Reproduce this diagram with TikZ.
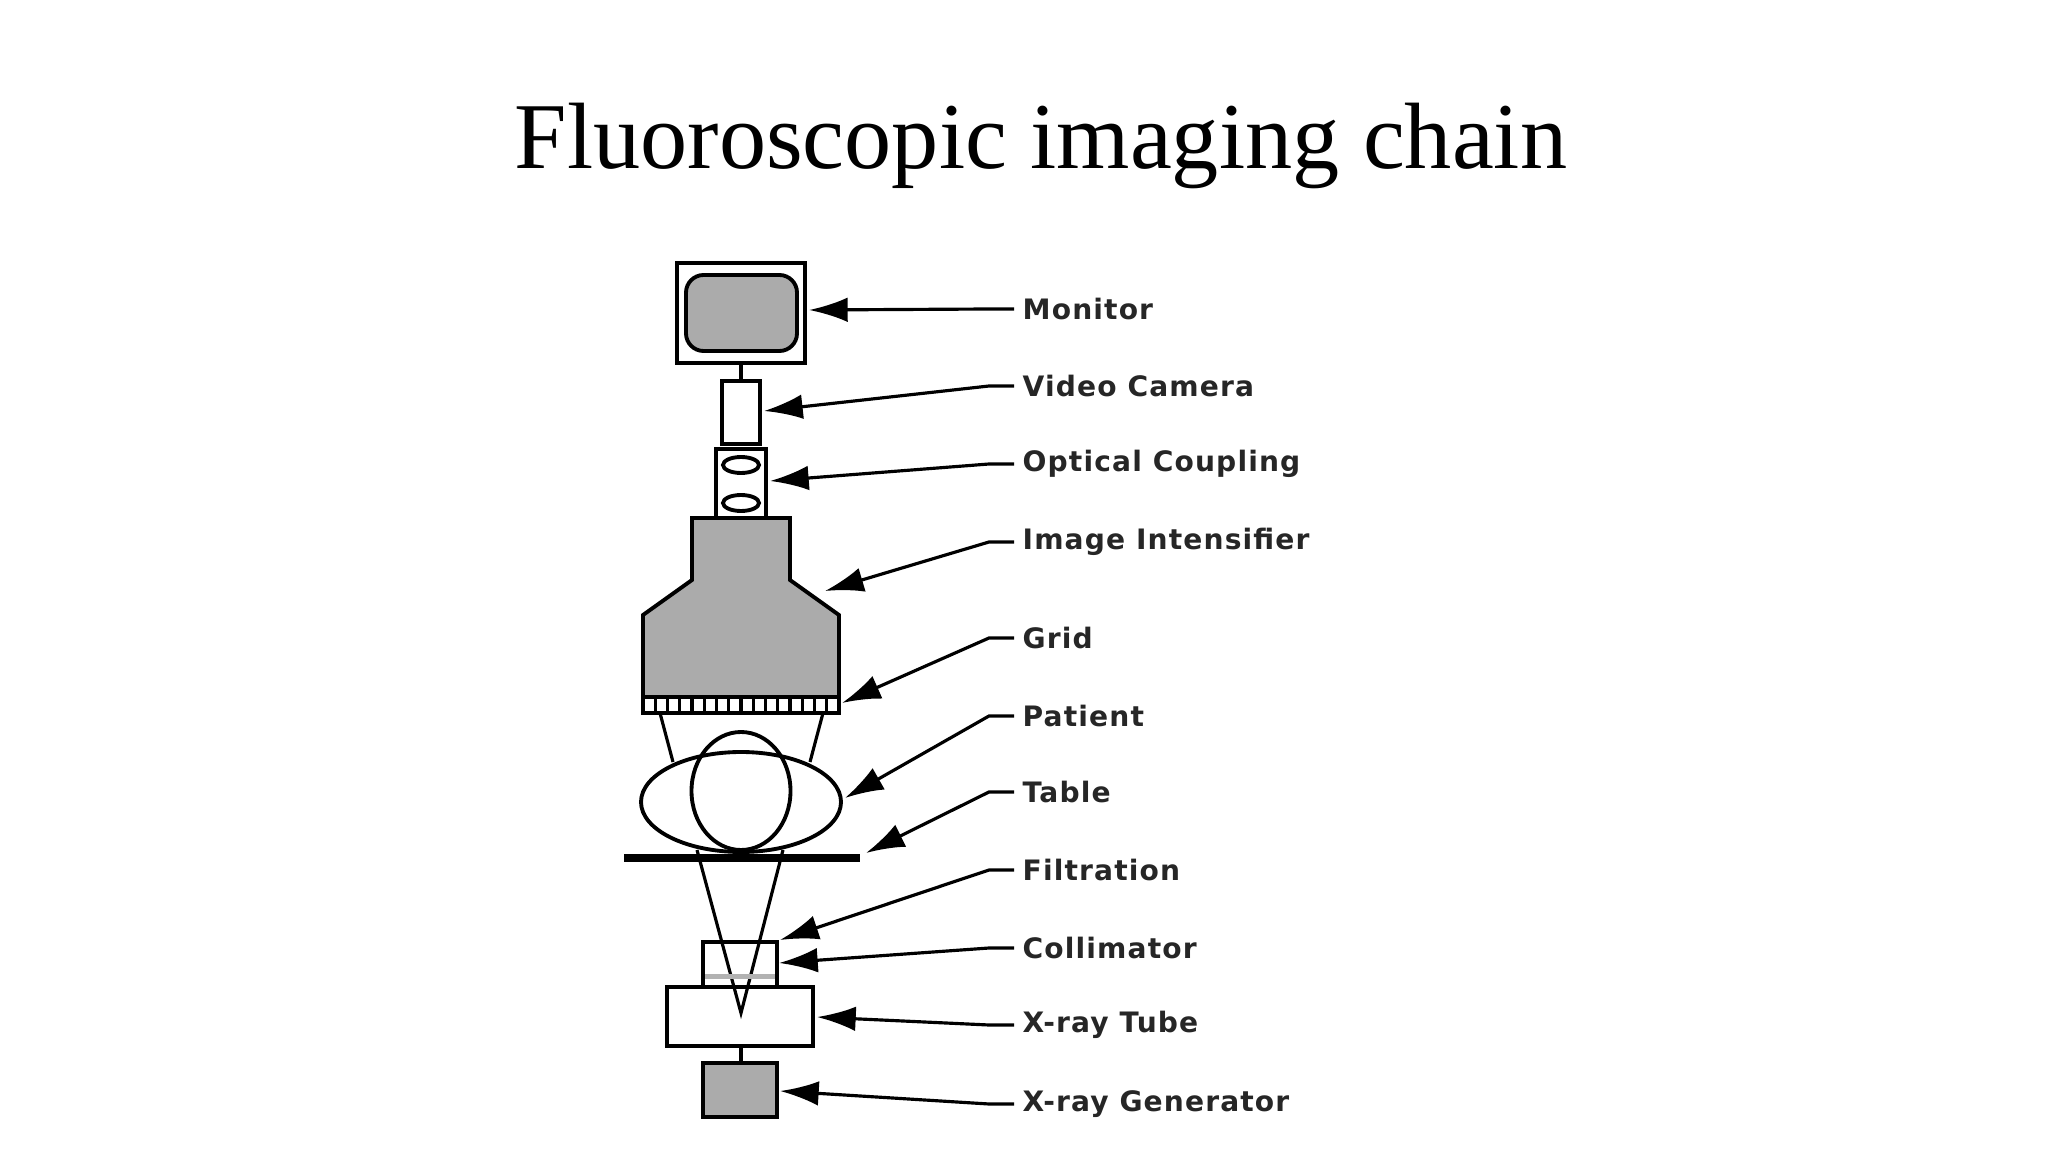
\documentclass[tikz,border=0pt]{standalone}
\usepackage{fontspec}
\setmainfont{Liberation Serif}
\newfontfamily\labelfont[LetterSpace=4]{DejaVu Sans}
\usetikzlibrary{arrows.meta}
\tikzset{
	part/.style={draw, line width=1.1pt},
	lbl/.style={anchor=west, inner sep=0, font=\labelfont\bfseries\fontsize{8}{9}\selectfont, text=black!85},
	lead/.style={draw, line width=0.9pt, -{Latex[length=11pt,width=7pt]}},
}
\begin{document}
\begin{tikzpicture}[x=0.01cm, y=-0.01cm]
	\useasboundingbox (0,0) rectangle (2048,1152);
	\node[font=\fontsize{26.8}{30}\selectfont, anchor=base] (title) at (1041,169) {Fluoroscopic imaging chain};
	% monitor
	\draw[part] (677,263) rectangle (805,363);
	\draw[part, fill=black!33, rounded corners=5pt] (686,275) rectangle (797,351);
	\draw[part] (741,363) -- (741,381);
	% camera and coupling
	\draw[part] (722,381) rectangle (760,444);
	\draw[part] (716,449) rectangle (766,518);
	\draw[part] (741,465) ellipse (18 and 8);
	\draw[part] (741,503) ellipse (18 and 8);
	% image intensifier
	\draw[part, fill=black!33] (692,518) -- (790,518) -- (790,580) -- (839,615) -- (839,697)
		-- (643,697) -- (643,615) -- (692,580) -- cycle;
	\foreach \i in {0,...,15}
		\draw[part, line width=0.9pt] ({643+\i*12.25},697) rectangle ++(12.25,16);
	% beam to patient
	\draw[part, line width=0.9pt] (660,713) -- (673,762);
	\draw[part, line width=0.9pt] (823,713) -- (810,762);
	% patient
	\draw[part, fill=white] (741,802) ellipse (100 and 50);
	\draw[part] (741,791) ellipse (49.5 and 59);
	% table
	\fill (624,854) rectangle (860,862);
	% beam cone
	\draw[part, line width=0.9pt] (697,850) -- (741,1013) -- (783,850);
	% collimator
	\draw[part] (703,942) rectangle (777,987);
	\draw[draw=none, fill=black!30] (705,974) rectangle (775,979);
	% tube and generator
	\draw[part] (667,987) rectangle (813,1046);
	\draw[part] (741,1046) -- (741,1063);
	\draw[part, fill=black!33] (703,1063) rectangle (777,1117);
	% labels
	\foreach \name/\txt/\ly/\tx/\ty in {
		mon/Monitor/309/809/310,
		cam/Video Camera/386/764/411,
		opt/Optical Coupling/464/770/481,
		ii/Image Intensifier/542/825/591,
		grid/Grid/638/842/703,
		pat/Patient/716/845/798,
		tab/Table/792/866/853,
		filt/Filtration/870/780/940,
		coll/Collimator/948/779/963,
		tube/X-ray Tube/1025/817/1017,
		gen/X-ray Generator/1104/780/1091} {
		\node[lbl] (\name) at (1022,\ly) {\txt};
		\coordinate (\name tip) at (\tx,\ty);
		\draw[lead] ([xshift=-0.08cm]\name.west) -- ++(-25,0) -- (\name tip);
	}
\end{tikzpicture}
\end{document}
